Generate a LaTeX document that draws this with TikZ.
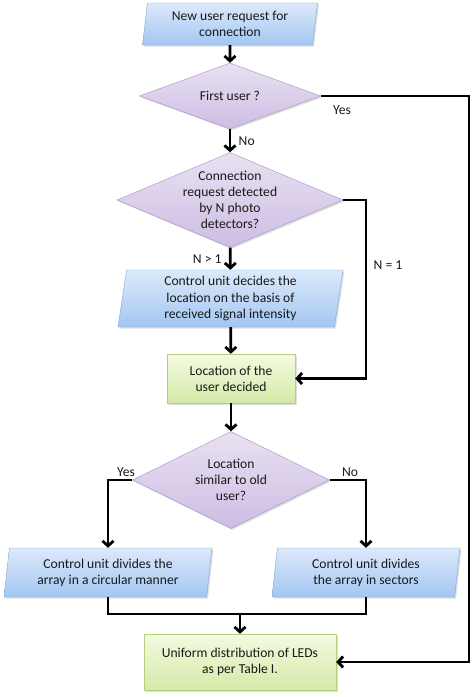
\documentclass[tikz,border=0pt]{standalone}
\usepackage{fontspec}
\setmainfont{Carlito}
\usetikzlibrary{shapes.geometric,arrows.meta,shadows}
\definecolor{ioTop}{HTML}{DCE9FB}
\definecolor{ioBot}{HTML}{A3C6F1}
\definecolor{ioLine}{HTML}{7DA4D8}
\definecolor{qTop}{HTML}{E9E1F2}
\definecolor{qBot}{HTML}{CDBDE3}
\definecolor{qLine}{HTML}{A28FC4}
\definecolor{okTop}{HTML}{F4FAE0}
\definecolor{okBot}{HTML}{D4EAA8}
\definecolor{okLine}{HTML}{B3D07C}

\begin{document}
\begin{tikzpicture}[x=1pt,y=-1pt,
  every node/.style={font=\fontsize{13.6}{16.2}\selectfont, text=black!90},
  shade/.style={drop shadow={shadow xshift=1.5pt, shadow yshift=-1.5pt, opacity=.25}},
  io/.style={trapezium, trapezium left angle=79, trapezium right angle=101, trapezium stretches body,
    draw=ioLine, top color=ioTop, bottom color=ioBot, align=center, inner sep=0pt, shade},
  quest/.style={diamond, draw=qLine, top color=qTop, bottom color=qBot, inner sep=0pt, shade},
  done/.style={rectangle, draw=okLine, top color=okTop, bottom color=okBot, align=center, inner sep=0pt, shade},
  arr/.style={line width=2.8pt, -{Straight Barb[length=5pt,width=11pt]}},
  seg/.style={line width=2.8pt}]
\useasboundingbox (0,0) rectangle (474,697);

\node[io, minimum width=175, minimum height=42] (request) at (230,24) {New user request for\\connection};
\node[quest, minimum width=181, minimum height=66, label={center:First user ?}] (first) at (230,96) {};
\node[quest, minimum width=226, minimum height=95,
  label={[align=center]center:Connection\\request detected\\by N photo\\detectors?}] (detect) at (230,200) {};
\node[io, minimum width=225, minimum height=57] (intensity) at (230.5,298.5) {Control unit decides the\\location on the basis of\\received signal intensity};
\node[done, minimum width=128, minimum height=49] (located) at (231,378.5) {Location of the\\user decided};
\node[quest, minimum width=197, minimum height=97,
  label={[align=center]center:Location\\similar to old\\user?}] (similar) at (231,480) {};
\node[io, minimum width=208, minimum height=49] (circular) at (108,572.5) {Control unit divides the\\array in a circular manner};
\node[io, minimum width=188, minimum height=49] (sectors) at (366,572.5) {Control unit divides\\the array in sectors};
\node[done, minimum width=192, minimum height=56] (uniform) at (240,662) {Uniform distribution of LEDs\\as per Table I.};

\coordinate (yesturn) at (469,96);
\coordinate (oneturn) at (366,200);
\coordinate (merge) at (240,614);

\draw[arr] (request) -- (first);
\draw[arr] (first) -- (detect) node[pos=.5, right=4pt]{No};
\draw[arr] (first.east) -- (yesturn) |- (uniform.east);
\node at (342,110) {Yes};
\draw[arr] (detect) -- (intensity) node[pos=.5, left=4pt]{N > 1};
\draw[arr] (detect.east) -- (oneturn) |- (located.east);
\node at (388,265) {N = 1};
\draw[arr] (intensity) -- (located);
\draw[arr] (located) -- (similar);
\draw[arr] (similar.west) -| (circular.north);
\node at (126,472) {Yes};
\draw[arr] (similar.east) -| (sectors.north);
\node at (350,472) {No};
\draw[seg] (circular.south) |- (merge) -| (sectors.south);
\draw[arr] (merge) -- (uniform);
\end{tikzpicture}
\end{document}
